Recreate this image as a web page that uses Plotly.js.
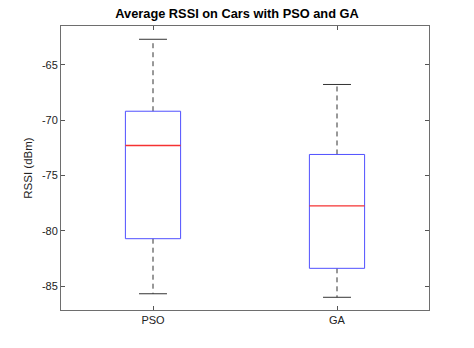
<!DOCTYPE html>
<html>
<head>
<meta charset="utf-8">
<script src="https://cdn.plot.ly/plotly-3.0.1.min.js"></script>
<style>html,body{margin:0;padding:0;background:#fff;}#chart{width:474px;height:348px;}</style>
</head>
<body>
<div id="chart"></div>
<script>
// Data
var categories = ['PSO', 'GA'];
var positions = [1, 2];
var upperWhisker = [-62.68, -66.77];
var q3 = [-69.19, -73.10];
var median = [-72.29, -77.75];
var q1 = [-80.72, -83.40];
var lowerWhisker = [-85.70, -86.02];
var yTickVals = [-85, -80, -75, -70, -65];
var yTickText = ['-85', '-80', '-75', '-70', '-65'];

var boxHalf = 0.15, capHalf = 0.076;
var traces = [];
for (var i = 0; i < positions.length; i++) {
  var p = positions[i];
  traces.push({x: [p, p, null, p, p], y: [q3[i], upperWhisker[i], null, q1[i], lowerWhisker[i]],
    mode: 'lines', line: {color: '#333333', width: 1, dash: '5px,4px'}, hoverinfo: 'skip'});
  traces.push({x: [p - capHalf, p + capHalf, null, p - capHalf, p + capHalf],
    y: [upperWhisker[i], upperWhisker[i], null, lowerWhisker[i], lowerWhisker[i]],
    mode: 'lines', line: {color: '#333333', width: 1}, hoverinfo: 'skip'});
  traces.push({x: [p - boxHalf, p + boxHalf, p + boxHalf, p - boxHalf, p - boxHalf],
    y: [q1[i], q1[i], q3[i], q3[i], q1[i]],
    mode: 'lines', line: {color: 'rgb(80,80,255)', width: 1}, hoverinfo: 'skip'});
  traces.push({x: [p - boxHalf, p + boxHalf], y: [median[i], median[i]],
    mode: 'lines', line: {color: 'rgb(245,50,50)', width: 1.3}, hoverinfo: 'skip'});
}

var layout = {
  width: 474, height: 348,
  margin: {l: 61, r: 45, t: 26, b: 38},
  paper_bgcolor: '#ffffff', plot_bgcolor: '#ffffff',
  showlegend: false,
  font: {family: 'Liberation Sans, Arial, sans-serif', size: 11, color: '#222'},
  title: {text: '<b>Average RSSI on Cars with PSO and GA</b>', font: {size: 12.8, color: '#000'}, x: 0.5, xanchor: 'center', y: 0.96, yanchor: 'middle'},
  xaxis: {
    range: [0.5, 2.5], tickvals: positions, ticktext: categories,
    ticks: 'inside', ticklen: 4, tickcolor: '#555', showline: true, linecolor: '#6e6e6e', linewidth: 1,
    mirror: 'ticks', showgrid: false, zeroline: false, fixedrange: true
  },
  yaxis: {
    range: [-87.17, -61.48], tickvals: yTickVals, ticktext: yTickText,
    ticks: 'inside', ticklen: 4, tickcolor: '#555', showline: true, linecolor: '#6e6e6e', linewidth: 1,
    mirror: 'ticks', showgrid: false, zeroline: false, fixedrange: true,
    title: {text: 'RSSI (dBm)', font: {size: 11.5, color: '#222'}, standoff: 6}
  }
};

Plotly.newPlot('chart', traces, layout, {displayModeBar: false, staticPlot: true});
</script>
</body>
</html>
